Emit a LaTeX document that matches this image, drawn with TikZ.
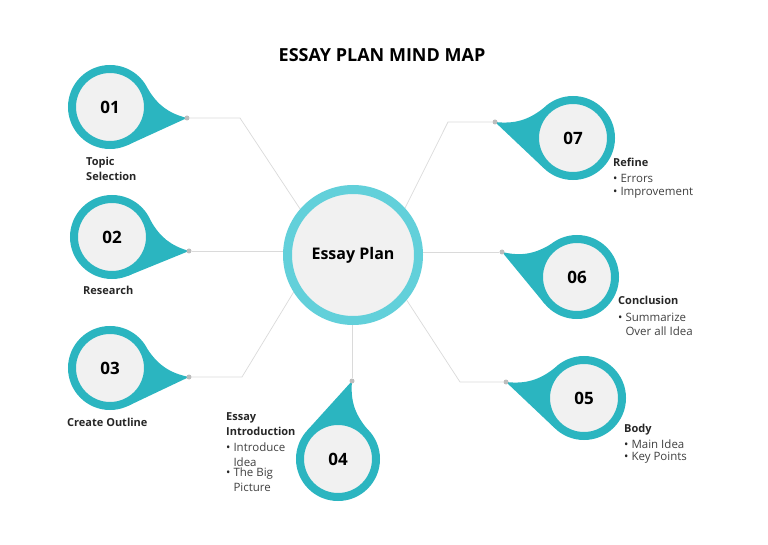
\documentclass[tikz,border=0pt]{standalone}
\usepackage{fontspec}
\setmainfont{Open Sans}
\usetikzlibrary{backgrounds}

\definecolor{pinteal}{HTML}{2BB5C0}
\definecolor{hubteal}{HTML}{62D0DA}
\definecolor{disc}{HTML}{F1F1F1}
\definecolor{wire}{HTML}{DADADA}
\definecolor{dotgray}{HTML}{BDBDBD}

\newcommand\hd[1]{{\fontsize{11}{11}\selectfont\bfseries #1}}
\newcommand\itm[1]{\textbullet\ \textcolor{black!75}{#1}}
\newcommand\itmcont[1]{\hphantom{\textbullet\ }\textcolor{black!75}{#1}}

\begin{document}
\begin{tikzpicture}[x=1pt,y=1pt,
    pin/.style={circle, draw=pinteal, line width=8pt, fill=disc, minimum size=76pt, inner sep=0pt,
        font=\fontsize{17}{17}\selectfont\bfseries},
    tail/.style={fill=pinteal},
    tipdot/.style={circle, fill=dotgray, minimum size=5pt, inner sep=0pt},
    wireline/.style={draw=wire, line width=0.7pt},
    lbl/.style={anchor=base west, align=left, inner sep=0pt, text=black!85,
        font=\fontsize{11.5}{15}\selectfont}]
\useasboundingbox (0,0) rectangle (768,544);

\node[font=\fontsize{18}{18}\selectfont\bfseries] (title) at (382,489) {ESSAY PLAN MIND MAP};

% hub
\node[circle, draw=hubteal, line width=9pt, fill=disc, minimum size=131pt, inner sep=0pt,
    font=\fontsize{16}{16}\selectfont\bfseries] (hub) at (353,289) {Essay Plan};

% pins
\node[pin] (p1) at (110,437) {01};
\node[pin] (p2) at (112,307) {02};
\node[pin] (p3) at (110,176) {03};
\node[pin] (p4) at (338,85) {04};
\node[pin] (p5) at (584,146) {05};
\node[pin] (p6) at (577,267) {06};
\node[pin] (p7) at (573,406) {07};

\node[tipdot] (t1) at (187,426) {};
\node[tipdot] (t2) at (189,293) {};
\node[tipdot] (t3) at (189,167) {};
\node[tipdot] (t4) at (352,163) {};
\node[tipdot] (t5) at (506,162) {};
\node[tipdot] (t6) at (502,292) {};
\node[tipdot] (t7) at (495,422) {};

\coordinate (e1) at (240,426);
\coordinate (e3) at (242,167);
\coordinate (e5) at (460,162);
\coordinate (e7) at (448,422);

\begin{scope}[on background layer]
    % tails: curved edge on one side, straight edge on the other
    \fill[tail] (t1.center) to[bend left=22] (p1.25) -- (p1.center) -- (p1.-65) -- cycle;
    \fill[tail] (t2.center) to[bend left=22] (p2.23) -- (p2.center) -- (p2.-67) -- cycle;
    \fill[tail] (t3.center) to[bend left=22] (p3.26) -- (p3.center) -- (p3.-64) -- cycle;
    \fill[tail] (t4.center) to[bend right=22] (p4.47) -- (p4.center) -- (p4.137) -- cycle;
    \fill[tail] (t5.center) to[bend right=22] (p5.135) -- (p5.center) -- (p5.225) -- cycle;
    \fill[tail] (t6.center) to[bend right=22] (p6.129) -- (p6.center) -- (p6.219) -- cycle;
    \fill[tail] (t7.center) to[bend right=22] (p7.135) -- (p7.center) -- (p7.225) -- cycle;

    \draw[wireline] (t1) -- (e1) -- (hub.139);
    \draw[wireline] (t2) -- (t2 -| hub.west);
    \draw[wireline] (t3) -- (e3) -- (hub.212);
    \draw[wireline] (t4) -- (t4 |- hub.south);
    \draw[wireline] (t5) -- (e5) -- (hub.320);
    \draw[wireline] (t6) -- (t6 -| hub.east);
    \draw[wireline] (t7) -- (e7) -- (hub.42);
\end{scope}

% labels (anchored on the baseline of the last line)
\node[lbl] (l1) at (86,363) {\hd{Topic}\\\hd{Selection}};
\node[lbl] (l2) at (83,249) {\hd{Research}};
\node[lbl] (l3) at (67,118) {\hd{Create Outline}};
\node[lbl] (l4) at (226,53) {\hd{Essay}\\\hd{Introduction}\\[1pt]
    \itm{Introduce}\\\itmcont{Idea}\\[-5pt]
    \itm{The Big}\\\itmcont{Picture}};
\node[lbl, font=\fontsize{11.5}{13}\selectfont] (l7) at (613,348) {\hd{Refine}\\[3pt]
    \itm{Errors}\\\itm{Improvement}};
\node[lbl, font=\fontsize{11.5}{14}\selectfont] (l6) at (618,208) {\hd{Conclusion}\\[3pt]
    \itm{Summarize}\\\itmcont{Over all Idea}};
\node[lbl, font=\fontsize{11.5}{11.5}\selectfont] (l5) at (624,84) {\hd{Body}\\[4.5pt]
    \itm{Main Idea}\\\itm{Key Points}};
\end{tikzpicture}
\end{document}
